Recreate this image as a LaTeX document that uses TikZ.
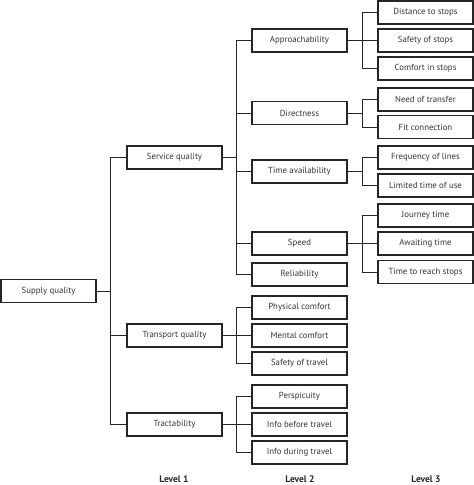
\documentclass[tikz,border=0pt]{standalone}
\usepackage{fontspec}
\setmainfont{PT Sans}
\begin{document}
\begin{tikzpicture}[x=1pt,y=-1pt,
  box/.style={draw=black!85,line width=1.1pt,minimum width=95pt,minimum height=23pt,inner sep=0pt,font=\fontsize{8.8}{10}\selectfont,text=black!80},
  wbox/.style={box,minimum width=95pt},
  conn/.style={draw=black!85,line width=0.9pt},
  lvl/.style={font=\bfseries\fontsize{9.5}{10}\selectfont,text=black!85}]
\useasboundingbox (0,0) rectangle (474,485);
% level 0
\node[box] (sq) at (48.5,291) {Supply quality};
% level 1
\node[box] (sv) at (174.5,157.5) {Service quality};
\node[box] (tq) at (174.5,335.5) {Transport quality};
\node[box] (tr) at (174.5,424.5) {Tractability};
% level 2
\node[box] (ap) at (299.5,40.5) {Approachability};
\node[box] (di) at (299.5,113) {Directness};
\node[box] (ta) at (299.5,171.5) {Time availability};
\node[box] (sp) at (299.5,243.5) {Speed};
\node[box] (re) at (299.5,274.5) {Reliability};
\node[box] (pc) at (299.5,307.5) {Physical comfort};
\node[box] (mc) at (299.5,335.5) {Mental comfort};
\node[box] (st) at (299.5,363.5) {Safety of travel};
\node[box] (pe) at (299.5,396.5) {Perspicuity};
\node[box] (ib) at (299.5,424.5) {Info before travel};
\node[box] (id) at (299.5,452.5) {Info during travel};
% level 3
\node[wbox] (ds) at (425.5,12.5) {Distance to stops};
\node[wbox] (ss) at (425.5,40.5) {Safety of stops};
\node[wbox] (cs) at (425.5,68.5) {Comfort in stops};
\node[wbox] (nt) at (425.5,99.5) {Need of transfer};
\node[wbox] (fc) at (425.5,127) {Fit connection};
\node[wbox] (fl) at (425.5,157.5) {Frequency of lines};
\node[wbox] (lt) at (425.5,185.5) {Limited time of use};
\node[wbox] (jt) at (425.5,215.5) {Journey time};
\node[wbox] (at) at (425.5,243.5) {Awaiting time};
\node[wbox] (tt) at (425.5,272) {Time to reach stops};
% connectors level 0-1
\foreach \c in {sv,tq,tr} \draw[conn] (\c.west) -- ++(-16,0) |- (sq.east);
% level 1-2
\foreach \c in {ap,di,ta,sp,re} \draw[conn] (\c.west) -- ++(-15,0) |- (sv.east);
\foreach \c in {pc,mc,st} \draw[conn] (\c.west) -- ++(-15,0) |- (tq.east);
\foreach \c in {pe,ib,id} \draw[conn] (\c.west) -- ++(-15,0) |- (tr.east);
% level 2-3
\foreach \c in {ds,ss,cs} \draw[conn] (\c.west) -- ++(-15,0) |- (ap.east);
\foreach \c in {nt,fc} \draw[conn] (\c.west) -- ++(-15,0) |- (di.east);
\foreach \c in {fl,lt} \draw[conn] (\c.west) -- ++(-15,0) |- (ta.east);
\foreach \c in {jt,at,tt} \draw[conn] (\c.west) -- ++(-15,0) |- (sp.east);
% level labels
\node[lvl] (l1) at (174,479) {Level 1};
\node[lvl] (l2) at (300,479) {Level 2};
\node[lvl] (l3) at (426,479) {Level 3};
\end{tikzpicture}
\end{document}
